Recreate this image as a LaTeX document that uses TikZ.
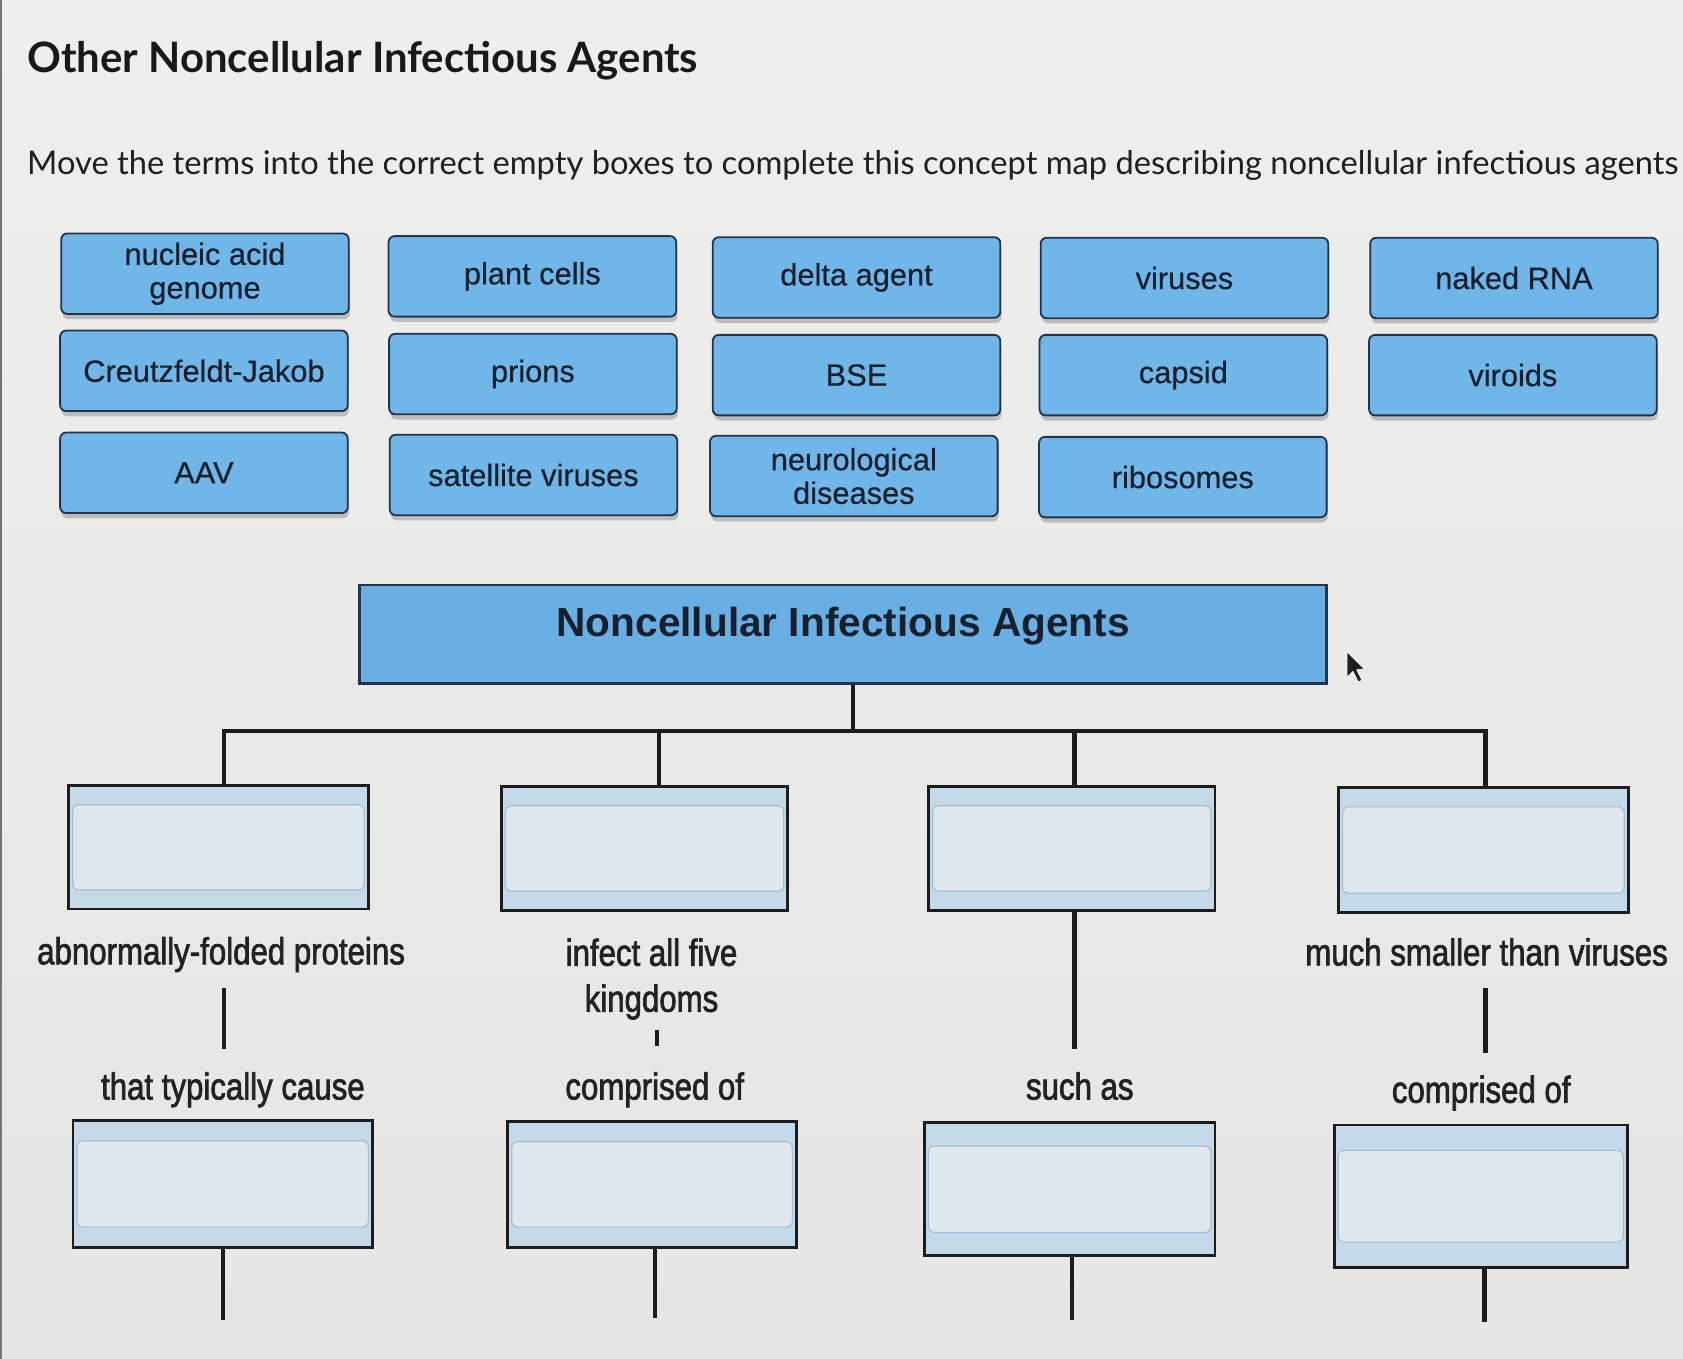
\documentclass[tikz,border=0pt]{standalone}
\usepackage{fontspec}
\setmainfont{Liberation Sans}
\newfontfamily\headfont{Lato}
\newfontfamily\tilefont[FakeBold=0.5]{Liberation Sans}
\newfontfamily\labfont[FakeStretch=0.83,FakeBold=1.8]{Liberation Sans}
\usetikzlibrary{calc,shadows}
\definecolor{bgtop}{RGB}{238,238,236}
\definecolor{bgbot}{RGB}{229,229,227}
\definecolor{tileblue}{RGB}{112,182,232}
\definecolor{rootblue}{RGB}{106,175,228}
\definecolor{tileedge}{RGB}{36,50,74}
\definecolor{tiletext}{RGB}{24,32,46}
\definecolor{eouter}{RGB}{196,218,233}
\definecolor{einner}{RGB}{222,231,238}
\definecolor{einedge}{RGB}{165,190,208}
\definecolor{linecol}{RGB}{28,28,30}
\definecolor{labtext}{RGB}{34,34,36}
\newcommand\tile[4]{\node[tile] (#1) at (#2,#3) {#4};}
\newcommand\emptybox[6]{%
  \node[ebox, minimum width={#4*0.5367pt}, minimum height={#5*0.5367pt}] (#1) at (#2,#3) {};
  \draw[einnerbox] ($(#1.north west)+(5,#6)$) rectangle ($(#1.south east)+(-5,-#6)$);}
\begin{document}
\begin{tikzpicture}[x=0.5367pt,y=-0.5367pt,
  tile/.style={draw=tileedge, line width=0.9pt, fill=tileblue, rounded corners=3pt,
    minimum width=143.8pt, minimum height=40.25pt, align=center, inner sep=0pt,
    text=tiletext, font=\tilefont\fontsize{15.4}{16.8}\selectfont,
    drop shadow={shadow xshift=0.6pt, shadow yshift=-2.6pt, opacity=0.2, fill=black}},
  rootbox/.style={draw=tileedge, line width=1.3pt, fill=rootblue, inner sep=0pt},
  roottext/.style={font=\bfseries\fontsize{20.3}{24}\selectfont, text=tiletext, inner sep=0pt},
  ebox/.style={draw=linecol, line width=1.35pt, fill=eouter, inner sep=0pt},
  einnerbox/.style={draw=einedge, line width=0.6pt, fill=einner, rounded corners=3pt},
  conn/.style={draw=linecol, line width=2.15pt},
  lab/.style={font=\labfont\fontsize{18.8}{22}\selectfont, text=labtext, inner sep=0pt,
    text height=13.5pt, text depth=4.5pt},
  lab2/.style={font=\labfont\fontsize{18.8}{22}\selectfont, text=labtext, inner sep=0pt, align=center}
]
\useasboundingbox (0,0) rectangle (1568,1266);
\shade[top color=bgtop, bottom color=bgbot] (0,0) rectangle (1568,1266);
\fill[black!55] (0,0) rectangle (2,1266);

% headings
\node[anchor=base west, inner sep=0pt, text=black!90] (title) at (25,68)
  {\resizebox{335.4pt}{!}{\headfont\bfseries Other Noncellular Infectious Agents}};
\node[anchor=base west, inner sep=0pt, text=black!88] (subtitle) at (25,163)
  {\resizebox{825.5pt}{!}{\headfont Move the terms into the correct empty boxes to complete this concept map describing noncellular infectious agents}};

% term tiles
\tile{t11}{191}{255}{nucleic acid\\genome}
\tile{t12}{496}{257.5}{plant cells}
\tile{t13}{798}{258.5}{delta agent}
\tile{t14}{1103.5}{259}{viruses}
\tile{t15}{1410.5}{259}{naked RNA}
\tile{t21}{190}{345.5}{Creutzfeldt-Jakob}
\tile{t22}{496.5}{348.5}{prions}
\tile{t23}{798}{349.5}{BSE}
\tile{t24}{1102.5}{349.5}{capsid}
\tile{t25}{1409.5}{349.5}{viroids}
\tile{t31}{190}{440.5}{AAV}
\tile{t32}{497}{442.5}{satellite viruses}
\tile{t33}{795.5}{443.5}{neurological\\diseases}
\tile{t34}{1102}{444.5}{ribosomes}

% root
\node[rootbox, minimum width=483.6pt, minimum height=49.4pt] (root) at (785.5,591) {};
\node[roottext] (roottxt) at (785.5,583) {Noncellular Infectious Agents};

% cursor
\filldraw[fill=black!88, draw=white, line width=0.4pt, line join=round] (1255,607) -- ++(0,24) -- ++(5.5,-5.5) -- ++(5,10) -- ++(3.5,-1.7) -- ++(-5,-9.8) -- ++(7.5,-0.5) -- cycle;

% empty boxes
\emptybox{A1}{203.5}{789.5}{279}{115}{19}
\emptybox{A2}{600.5}{790.5}{267}{115}{19}
\emptybox{A3}{998.5}{790.5}{267}{115}{19}
\emptybox{A4}{1382}{792}{270}{116}{19}
\emptybox{B1}{207.5}{1103}{279}{118}{20}
\emptybox{B2}{607.5}{1103.5}{269}{117}{20}
\emptybox{B3}{996.5}{1108}{271}{124}{23}
\emptybox{B4}{1379.5}{1114.5}{273}{133}{25}

% labels
\node[lab] (LA1) at (206,890) {abnormally-folded proteins};
\node[lab2, anchor=north] (LA2) at (607,874) {infect all five\\[1pt]kingdoms};
\node[lab] (LA4) at (1385,891) {much smaller than viruses};
\node[lab] (LB1) at (217,1016) {that typically cause};
\node[lab] (LB2) at (610,1016) {comprised of};
\node[lab] (LB3) at (1006,1016) {such as};
\node[lab] (LB4) at (1380,1019) {comprised of};

% tree connectors
\coordinate (stem) at (795,681);
\coordinate (d1) at (209,681);
\coordinate (d2) at (614,681);
\coordinate (d3) at (1001,681);
\coordinate (d4) at (1384,681);
\draw[conn] (root.south -| stem) -- (stem);
\draw[conn, line join=miter] (d1 |- A1.north) -- (d1) -- (d4) -- (d4 |- A4.north);
\draw[conn] (d2) -- (d2 |- A2.north);
\draw[conn] (d3) -- (d3 |- A3.north);

\draw[conn, shorten <=7.1pt, shorten >=11.4pt] (LA1.south -| d1) -- (LB1.north -| d1);
\coordinate (t2) at (612,960);
\draw[conn, shorten >=13pt] (t2) -- (LB2.north -| t2);
\draw[conn, shorten >=11.4pt] (A3.south -| d3) -- (LB3.north -| d3);
\draw[conn, shorten <=6.5pt, shorten >=11.4pt] (LA4.south -| d4) -- (LB4.north -| d4);

% bottom stubs
\coordinate (e1) at (208,1230);
\coordinate (e2) at (610,1228);
\coordinate (e3) at (999,1230);
\coordinate (e4) at (1383,1232);
\draw[conn] (B1.south -| e1) -- (e1);
\draw[conn] (B2.south -| e2) -- (e2);
\draw[conn] (B3.south -| e3) -- (e3);
\draw[conn] (B4.south -| e4) -- (e4);
\end{tikzpicture}
\end{document}
